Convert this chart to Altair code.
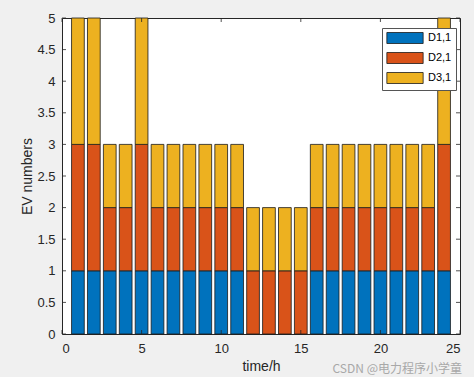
import altair as alt
import pandas as pd

hours = list(range(1, 25))
d1 = [1,1,1,1,1,1,1,1,1,1,1,0,0,0,0,1,1,1,1,1,1,1,1,1]
d2 = [2,2,1,1,2,1,1,1,1,1,1,1,1,1,1,1,1,1,1,1,1,1,1,2]
d3 = [2,2,1,1,2,1,1,1,1,1,1,1,1,1,1,1,1,1,1,1,1,1,1,2]
series_names = ["D1,1", "D2,1", "D3,1"]
colors = ["#0072BD", "#D95319", "#EDB120"]
x_ticks = [0, 5, 10, 15, 20, 25]
y_ticks = [0, 0.5, 1, 1.5, 2, 2.5, 3, 3.5, 4, 4.5, 5]

rows = []
for i, h in enumerate(hours):
    base = 0
    for name, vals in zip(series_names, [d1, d2, d3]):
        v = vals[i]
        if v > 0:
            rows.append({"t": h, "series": name, "y0": base, "y1": base + v})
        base += v
df = pd.DataFrame(rows)

W, H = 398, 316
font = "Liberation Sans"

xscale = alt.Scale(domain=[0, 25], nice=False, zero=False)
yscale = alt.Scale(domain=[0, 5], nice=False)
xaxis = alt.Axis(values=x_ticks, title="time/h", ticks=False, domain=False,
                 grid=False, labelPadding=8, titlePadding=4, format="~g",
                 labelOverlap=False)
yaxis = alt.Axis(values=y_ticks, title="EV numbers", ticks=False, domain=False,
                 grid=False, labelPadding=7, titlePadding=2, format="~g",
                 labelOverlap=False)

bars = alt.Chart(df).transform_calculate(
    xa="datum.t - 0.4", xb="datum.t + 0.4"
).mark_bar(stroke="#1a1a1a", strokeWidth=0.8, opacity=1).encode(
    x=alt.X("xa:Q", scale=xscale, axis=xaxis),
    x2="xb:Q",
    y=alt.Y("y0:Q", scale=yscale, axis=yaxis),
    y2="y1:Q",
    color=alt.Color("series:N", scale=alt.Scale(domain=series_names, range=colors),
                    legend=alt.Legend(title=None, orient="none", legendX=320, legendY=10,
                                      fillColor="white", strokeColor="#555555",
                                      padding=4, rowPadding=4,
                                      symbolType="M-3.3,-1L3.3,-1L3.3,1L-3.3,1Z",
                                      symbolSize=121, symbolStrokeColor="#1a1a1a",
                                      symbolStrokeWidth=0.8, symbolOpacity=1,
                                      symbolOffset=13,
                                      labelFontSize=11, labelFont=font, labelColor="#000000",
                                      labelOffset=17)),
)

ydf = pd.DataFrame({"v": y_ticks})
xdf = pd.DataFrame({"v": x_ticks})
tick_col = "#262626"
yl = alt.Chart(ydf).mark_rule(color=tick_col, strokeWidth=0.8).encode(
    y=alt.Y("v:Q", scale=yscale, axis=yaxis), x=alt.value(0), x2=alt.value(4))
yr = alt.Chart(ydf).mark_rule(color=tick_col, strokeWidth=0.8).encode(
    y=alt.Y("v:Q", scale=yscale, axis=yaxis), x=alt.value(W - 4), x2=alt.value(W))
xb = alt.Chart(xdf).mark_rule(color=tick_col, strokeWidth=0.8).encode(
    x=alt.X("v:Q", scale=xscale, axis=xaxis), y=alt.value(H - 4), y2=alt.value(H))
xt = alt.Chart(xdf).mark_rule(color=tick_col, strokeWidth=0.8).encode(
    x=alt.X("v:Q", scale=xscale, axis=xaxis), y=alt.value(0), y2=alt.value(4))

wm = alt.Chart(pd.DataFrame({"s": ["CSDN @电力程序小学童"]})).mark_text(
    align="right", baseline="middle", font="Noto Sans CJK SC", fontSize=12,
    color="#a8a8a8"
).encode(text="s:N", x=alt.value(W + 2), y=alt.value(H + 35))

chart = alt.layer(bars, yl, yr, xb, xt, wm).properties(
    width=W, height=H,
    autosize=alt.AutoSizeParams(type="none"),
    padding={"left": 62, "top": 18, "right": 14, "bottom": 43},
    background="#f0f0f0",
).configure_view(
    fill="white", stroke="#262626", strokeWidth=1
).configure_axis(
    labelFont=font, labelFontSize=13, labelColor="#262626",
    titleFont=font, titleFontSize=14, titleColor="#262626", titleFontWeight="normal"
)

chart.save("out.html", embed_options={"renderer": "svg", "actions": False})
